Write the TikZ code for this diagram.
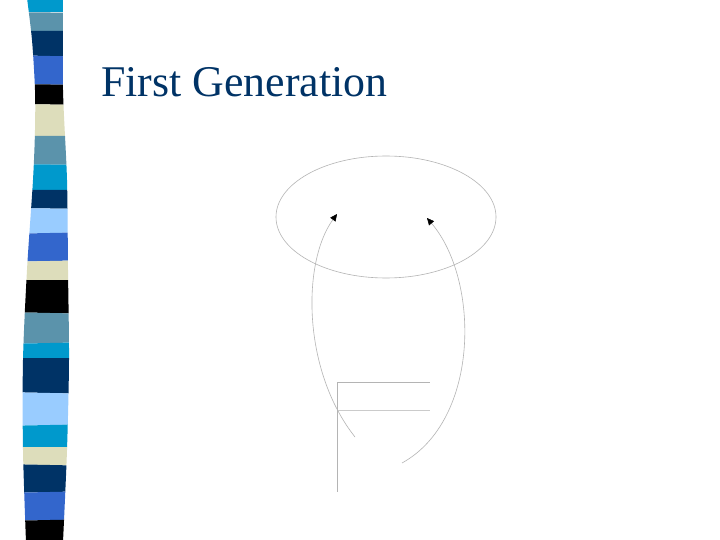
\documentclass[tikz,border=0pt]{standalone}
\usepackage{fontspec}
\setmainfont{Liberation Serif}
\usetikzlibrary{arrows.meta,shapes.geometric}
\definecolor{scyan}{HTML}{0099CC}
\definecolor{ssteel}{HTML}{5B93AB}
\definecolor{snavy}{HTML}{003366}
\definecolor{sroyal}{HTML}{3366CC}
\definecolor{sbeige}{HTML}{DDDDBB}
\definecolor{slight}{HTML}{99CCFF}
\definecolor{titleblue}{HTML}{003366}
\definecolor{linegray}{HTML}{B4B4B4}
\tikzset{
  thinline/.style={draw=linegray, line width=0.6bp},
  arrowline/.style={thinline, -{Triangle[length=7bp,width=6.5bp,color=black,fill=black,line width=0.5bp]}},
  titletext/.style={anchor=base west, inner sep=0pt, text=titleblue, font=\fontsize{44}{50}\selectfont},
}
\begin{document}
\begin{tikzpicture}[x=1bp,y=-1bp]
\useasboundingbox (0,0) rectangle (720,540);
\fill[white] (0,0) rectangle (720,540);
% striped bar
\begin{scope}
\clip plot[smooth] coordinates {(27,-2) (32,40) (35,90) (35,130) (33,180) (27,270) (23,360) (23,450) (26,542)}
  -- plot[smooth] coordinates {(63,542) (67,450) (69,360) (68,270) (67,180) (63,90) (63,-2)} -- cycle;
\fill[scyan]   (0,-5) rectangle (100,12);
\fill[ssteel]  (0,12) -- (100,13) -- (100,31) -- (0,31) -- cycle;
\fill[snavy]   (0,31) -- (100,31) -- (100,57) -- (0,55) -- cycle;
\fill[sroyal]  (0,55) -- (100,57) -- (100,85) -- (0,84) -- cycle;
\fill[black]   (0,84) -- (100,85) -- (100,105) -- (0,104) -- cycle;
\fill[sbeige]  (0,104) -- (100,105) -- (100,136) -- (0,136) -- cycle;
\fill[ssteel]  (0,136) -- (100,136) -- (100,165) -- (0,164) -- cycle;
\fill[scyan]   (0,164) -- (100,165) -- (100,190) -- (0,190) -- cycle;
\fill[snavy]   (0,190) -- (100,190) -- (100,209) -- (0,208) -- cycle;
\fill[slight]  (0,208) -- (100,209) -- (100,232) -- (0,234) -- cycle;
\fill[sroyal]  (0,234) -- (100,232) -- (100,260) -- (0,262) -- cycle;
\fill[sbeige]  (0,262) -- (100,260) -- (100,280) -- (0,280) -- cycle;
\fill[black]   (0,280) -- (100,280) -- (100,314) -- (0,312) -- cycle;
\fill[ssteel]  (0,312) -- (100,314) -- (100,342) -- (0,344) -- cycle;
\fill[scyan]   (0,344) -- (100,342) -- (100,358) -- (0,358) -- cycle;
\fill[snavy]   (0,358) -- (100,358) -- (100,394) -- (0,392) -- cycle;
\fill[slight]  (0,392) -- (100,394) -- (100,424) -- (0,426) -- cycle;
\fill[scyan]   (0,426) -- (100,424) -- (100,447) -- (0,447) -- cycle;
\fill[sbeige]  (0,447) -- (100,447) -- (100,466) -- (0,464) -- cycle;
\fill[snavy]   (0,464) -- (100,466) -- (100,491) -- (0,493) -- cycle;
\fill[sroyal]  (0,493) -- (100,491) -- (100,519) -- (0,521) -- cycle;
\fill[black]   (0,521) -- (100,519) -- (100,545) -- (0,545) -- cycle;
\end{scope}
% title
\node[titletext] (title) at (101,97) {First Generation};
% top ellipse
\node[thinline, ellipse, minimum width=220bp, minimum height=122bp, inner sep=0pt] (orbit) at (386,217) {};
% arrow ends
\coordinate (ltip) at (337,214);
\coordinate (rtip) at (427,218);
\coordinate (lstart) at (355,437);
\coordinate (rstart) at (402,463);
\draw[arrowline] (lstart) .. controls (302,370) and (302,262) .. (ltip);
\draw[arrowline] (rstart) .. controls (480,420) and (480,280) .. (rtip);
% F shape
\coordinate (ftop) at (337.5,382.5);
\coordinate (fbot) at (337.5,491.5);
\coordinate (fr1) at (429.5,382.5);
\coordinate (fmid) at (337.5,410);
\coordinate (fr2) at (429.5,410);
\draw[thinline] (fbot) -- (ftop) -- (fr1);
\draw[thinline, draw=linegray!70] (fmid) -- (fr2);
\end{tikzpicture}
\end{document}
